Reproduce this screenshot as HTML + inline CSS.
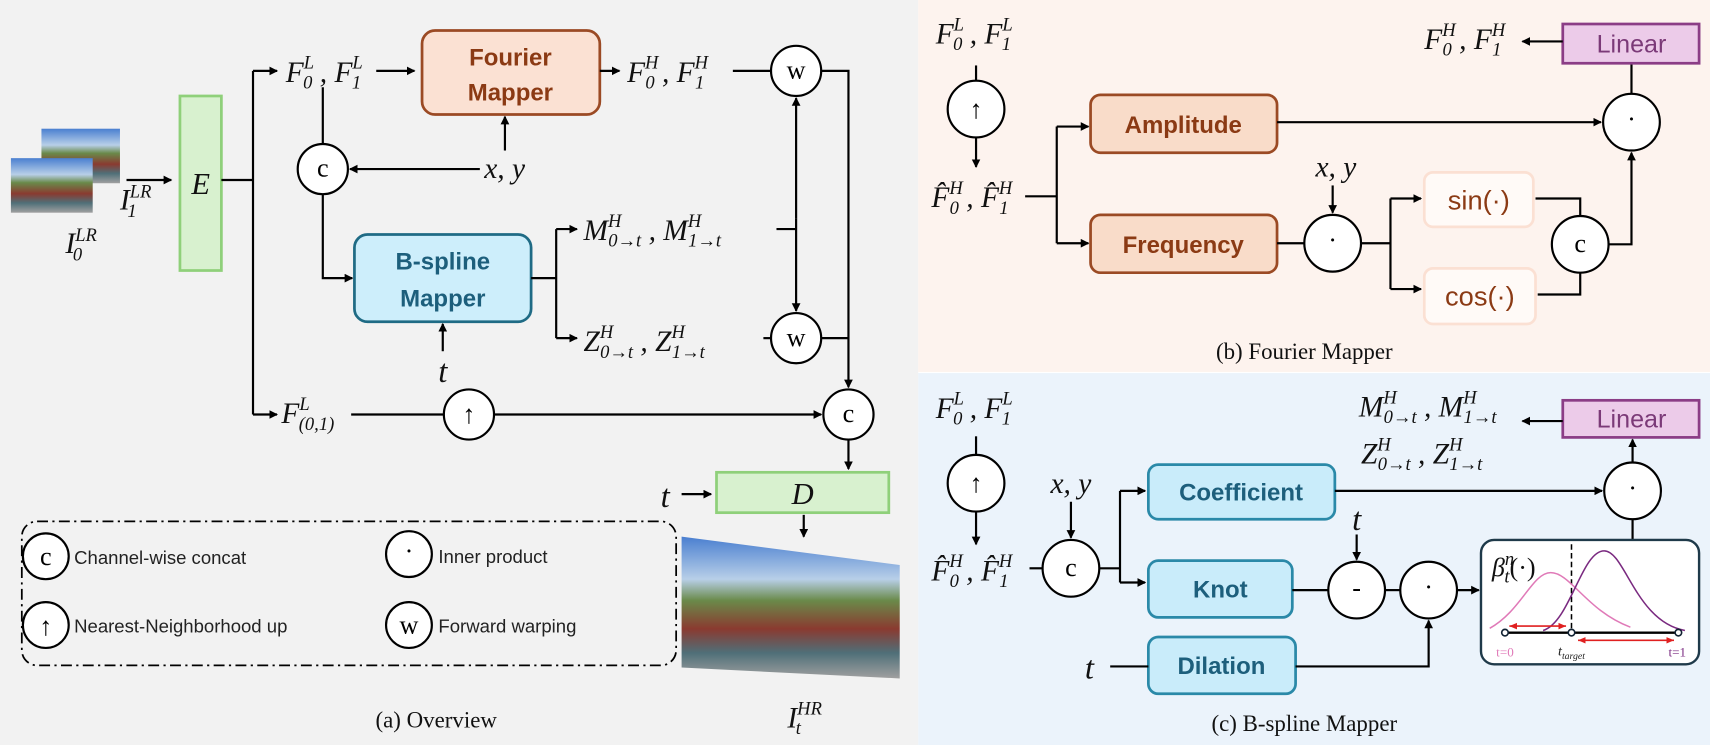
<!DOCTYPE html>
<html><head><meta charset="utf-8"><style>
html,body{margin:0;padding:0;background:#fff}
svg{display:block}
.m{font-family:"Liberation Serif",serif;font-style:italic;font-size:27px;fill:#111}
.s{font-size:17px}
.b{font-family:"Liberation Sans",sans-serif;font-weight:bold;font-size:22px;text-anchor:middle}
.l{font-family:"Liberation Sans",sans-serif;font-size:17px;fill:#222}
.cap{font-family:"Liberation Serif",serif;font-size:21px;fill:#111;text-anchor:middle}
.ln{stroke:#000;stroke-width:2;fill:none}
.ci{stroke:#000;stroke-width:2;fill:#fff}
.ct{font-family:"Liberation Serif",serif;font-size:24px;text-anchor:middle;fill:#000}
</style></head><body>
<svg width="1710" height="745" viewBox="0 0 1568 683" preserveAspectRatio="none" xmlns="http://www.w3.org/2000/svg">
<defs>
<marker id="a" markerWidth="8" markerHeight="8" refX="7" refY="4" orient="auto" markerUnits="userSpaceOnUse"><path d="M0,0 L8,4 L0,8 z" fill="#000"/></marker>
<marker id="r" markerWidth="8" markerHeight="8" refX="7" refY="4" orient="auto-start-reverse" markerUnits="userSpaceOnUse"><path d="M0,1 L7,4 L0,7 z" fill="#e02020"/></marker>
<linearGradient id="ph" x1="0" y1="0" x2="0" y2="1"><stop offset="0" stop-color="#4a7fd0"/><stop offset="0.3" stop-color="#b8cfe8"/><stop offset="0.45" stop-color="#6a8a4a"/><stop offset="0.65" stop-color="#8a3a30"/><stop offset="0.82" stop-color="#4f6f78"/><stop offset="1" stop-color="#a0a0a0"/></linearGradient>
</defs>
<rect x="0" y="0" width="842" height="683" fill="#f2f2f2"/>
<rect x="842" y="0" width="726" height="341" fill="#fdf3ee"/>
<rect x="842" y="342" width="726" height="341" fill="#ebf3fb"/>

<!-- panel a -->
<rect x="38" y="118" width="72" height="50" fill="url(#ph)"/>
<rect x="10" y="145" width="75" height="50" fill="url(#ph)"/>
<text class="m" x="110" y="192">I<tspan class="s" dy="-11">LR</tspan><tspan class="s" dx="-22" dy="18">1</tspan></text>
<text class="m" x="60" y="232">I<tspan class="s" dy="-11">LR</tspan><tspan class="s" dx="-22" dy="18">0</tspan></text>
<line class="ln" x1="116" y1="165" x2="157" y2="165" marker-end="url(#a)"/>
<rect x="165" y="88" width="38" height="160" fill="#d8f1cf" stroke="#8fd07a" stroke-width="2.5"/>
<text class="m" x="184" y="178" text-anchor="middle" style="font-size:28px">E</text>
<path class="ln" d="M203,165 H232 M232,65 V380"/>
<line class="ln" x1="232" y1="65" x2="254" y2="65" marker-end="url(#a)"/>
<line class="ln" x1="232" y1="380" x2="254" y2="380" marker-end="url(#a)"/>
<text class="m" x="262" y="75">F<tspan class="s" dy="-12">L</tspan><tspan class="s" dx="-10" dy="18">0</tspan><tspan dy="-6"> , F</tspan><tspan class="s" dy="-12">L</tspan><tspan class="s" dx="-10" dy="18">1</tspan></text>
<line class="ln" x1="345" y1="65" x2="380" y2="65" marker-end="url(#a)"/>
<rect x="387" y="28" width="163" height="77" rx="12" fill="#fbe1d3" stroke="#9b4a24" stroke-width="2.5"/>
<text class="b" x="468" y="60" fill="#8b3a14">Fourier</text>
<text class="b" x="468" y="92" fill="#8b3a14">Mapper</text>
<line class="ln" x1="550" y1="65" x2="568" y2="65" marker-end="url(#a)"/>
<text class="m" x="575" y="75">F<tspan class="s" dy="-12">H</tspan><tspan class="s" dx="-12" dy="18">0</tspan><tspan dy="-6"> , F</tspan><tspan class="s" dy="-12">H</tspan><tspan class="s" dx="-12" dy="18">1</tspan></text>
<line class="ln" x1="672" y1="65" x2="707" y2="65"/>
<circle class="ci" cx="730" cy="65" r="23"/><text class="ct" x="730" y="72">w</text>
<path class="ln" d="M753,65 H778 V355" marker-end="url(#a)"/>
<line class="ln" x1="296" y1="80" x2="296" y2="132"/>
<circle class="ci" cx="296" cy="155" r="23"/><text class="ct" x="296" y="162">c</text>
<line class="ln" x1="440" y1="155" x2="321" y2="155" marker-end="url(#a)"/>
<text class="m" x="444" y="163">x, y</text>
<line class="ln" x1="463" y1="138" x2="463" y2="107" marker-end="url(#a)"/>
<path class="ln" d="M296,178 V255 H323" marker-end="url(#a)"/>
<rect x="325" y="215" width="162" height="80" rx="12" fill="#cdeefb" stroke="#1f6b85" stroke-width="2.5"/>
<text class="b" x="406" y="247" fill="#1d5f7c">B-spline</text>
<text class="b" x="406" y="281" fill="#1d5f7c">Mapper</text>
<text class="m" x="406" y="350" text-anchor="middle" style="font-size:30px">t</text>
<line class="ln" x1="406" y1="322" x2="406" y2="297" marker-end="url(#a)"/>
<path class="ln" d="M487,255 H510 M510,210 V310"/>
<line class="ln" x1="510" y1="210" x2="529" y2="210" marker-end="url(#a)"/>
<line class="ln" x1="510" y1="310" x2="529" y2="310" marker-end="url(#a)"/>
<text class="m" x="535" y="220">M<tspan class="s" dy="-12">H</tspan><tspan class="s" dx="-12" dy="18">0→t</tspan><tspan dy="-6"> , M</tspan><tspan class="s" dy="-12">H</tspan><tspan class="s" dx="-12" dy="18">1→t</tspan></text>
<text class="m" x="535" y="322">Z<tspan class="s" dy="-12">H</tspan><tspan class="s" dx="-12" dy="18">0→t</tspan><tspan dy="-6"> , Z</tspan><tspan class="s" dy="-12">H</tspan><tspan class="s" dx="-12" dy="18">1→t</tspan></text>
<line class="ln" x1="712" y1="210" x2="730" y2="210"/>
<line class="ln" x1="730" y1="200" x2="730" y2="90" marker-end="url(#a)"/>
<line class="ln" x1="730" y1="200" x2="730" y2="285" marker-end="url(#a)"/>
<line class="ln" x1="700" y1="310" x2="707" y2="310"/>
<circle class="ci" cx="730" cy="310" r="23"/><text class="ct" x="730" y="317">w</text>
<line class="ln" x1="753" y1="310" x2="778" y2="310"/>
<text class="m" x="258" y="388">F<tspan class="s" dy="-12">L</tspan><tspan class="s" dx="-10" dy="18">(0,1)</tspan></text>
<line class="ln" x1="322" y1="380" x2="407" y2="380"/>
<circle class="ci" cx="430" cy="380" r="23"/><text class="ct" x="430" y="388">↑</text>
<line class="ln" x1="453" y1="380" x2="753" y2="380" marker-end="url(#a)"/>
<circle class="ci" cx="778" cy="380" r="23"/><text class="ct" x="778" y="387">c</text>
<line class="ln" x1="778" y1="403" x2="778" y2="430" marker-end="url(#a)"/>
<rect x="657" y="433" width="158" height="37" fill="#d8f1cf" stroke="#8fd07a" stroke-width="2.5"/>
<text class="m" x="736" y="462" text-anchor="middle" style="font-size:28px">D</text>
<text class="m" x="610" y="465" text-anchor="middle" style="font-size:30px">t</text>
<line class="ln" x1="625" y1="453" x2="652" y2="453" marker-end="url(#a)"/>
<line class="ln" x1="737" y1="472" x2="737" y2="492" marker-end="url(#a)"/>
<polygon points="625,492 825,518 825,622 625,612" fill="url(#ph)"/>
<text class="m" x="722" y="667">I<tspan class="s" dy="-12">HR</tspan><tspan class="s" dx="-24" dy="18">t</tspan></text>
<rect x="20" y="478" width="600" height="132" rx="14" fill="none" stroke="#000" stroke-width="1.6" stroke-dasharray="10,4,2,4"/>
<circle class="ci" cx="42" cy="510" r="21"/><text class="ct" x="42" y="518">c</text>
<text class="l" x="68" y="517">Channel-wise concat</text>
<circle class="ci" cx="42" cy="573" r="21"/><text class="ct" x="42" y="582">↑</text>
<text class="l" x="68" y="580">Nearest-Neighborhood up</text>
<circle class="ci" cx="375" cy="508" r="21"/><text class="ct" x="375" y="513">·</text>
<text class="l" x="402" y="516">Inner product</text>
<circle class="ci" cx="375" cy="573" r="21"/><text class="ct" x="375" y="581">w</text>
<text class="l" x="402" y="580">Forward warping</text>
<text class="cap" x="400" y="667">(a) Overview</text>

<!-- panel b -->
<text class="m" x="858" y="40">F<tspan class="s" dy="-12">L</tspan><tspan class="s" dx="-10" dy="18">0</tspan><tspan dy="-6"> , F</tspan><tspan class="s" dy="-12">L</tspan><tspan class="s" dx="-10" dy="18">1</tspan></text>
<line class="ln" x1="895" y1="60" x2="895" y2="74"/>
<circle class="ci" cx="895" cy="100" r="26"/><text class="ct" x="895" y="108">↑</text>
<line class="ln" x1="895" y1="126" x2="895" y2="153" marker-end="url(#a)"/>
<text class="m" x="854" y="190">F̂<tspan class="s" dy="-12">H</tspan><tspan class="s" dx="-12" dy="18">0</tspan><tspan dy="-6"> , F̂</tspan><tspan class="s" dy="-12">H</tspan><tspan class="s" dx="-12" dy="18">1</tspan></text>
<path class="ln" d="M940,180 H969 M969,116 V223"/>
<line class="ln" x1="969" y1="116" x2="998" y2="116" marker-end="url(#a)"/>
<line class="ln" x1="969" y1="223" x2="998" y2="223" marker-end="url(#a)"/>
<rect x="1000" y="87" width="171" height="53" rx="9" fill="#f9dcc9" stroke="#9b4a24" stroke-width="2.5"/>
<text class="b" x="1085" y="122" fill="#8b3a14">Amplitude</text>
<rect x="1000" y="197" width="171" height="53" rx="9" fill="#f9dcc9" stroke="#9b4a24" stroke-width="2.5"/>
<text class="b" x="1085" y="232" fill="#8b3a14">Frequency</text>
<line class="ln" x1="1171" y1="112" x2="1468" y2="112" marker-end="url(#a)"/>
<circle class="ci" cx="1496" cy="112" r="26"/><text class="ct" x="1496" y="117">·</text>
<line class="ln" x1="1496" y1="86" x2="1496" y2="58"/>
<rect x="1433" y="22" width="125" height="36" fill="#eccbe9" stroke="#8b3d86" stroke-width="2.5"/>
<text x="1496" y="48" text-anchor="middle" style="font-family:'Liberation Sans',sans-serif;font-size:23px;fill:#7b3a78">Linear</text>
<line class="ln" x1="1433" y1="38" x2="1396" y2="38" marker-end="url(#a)"/>
<text class="m" x="1306" y="45">F<tspan class="s" dy="-12">H</tspan><tspan class="s" dx="-12" dy="18">0</tspan><tspan dy="-6"> , F</tspan><tspan class="s" dy="-12">H</tspan><tspan class="s" dx="-12" dy="18">1</tspan></text>
<line class="ln" x1="1171" y1="223" x2="1196" y2="223"/>
<circle class="ci" cx="1222" cy="223" r="26"/><text class="ct" x="1222" y="228">·</text>
<text class="m" x="1225" y="162" text-anchor="middle">x, y</text>
<line class="ln" x1="1222" y1="170" x2="1222" y2="195" marker-end="url(#a)"/>
<path class="ln" d="M1248,223 H1275 M1275,182 V265"/>
<line class="ln" x1="1275" y1="182" x2="1303" y2="182" marker-end="url(#a)"/>
<line class="ln" x1="1275" y1="265" x2="1303" y2="265" marker-end="url(#a)"/>
<rect x="1306" y="158" width="100" height="50" rx="8" fill="#fffaf7" stroke="#fbe0d3" stroke-width="2.5"/>
<text x="1356" y="192" text-anchor="middle" style="font-family:'Liberation Sans',sans-serif;font-size:25px;fill:#8b3a14">sin(·)</text>
<rect x="1306" y="246" width="102" height="51" rx="8" fill="#fffaf7" stroke="#fbe0d3" stroke-width="2.5"/>
<text x="1357" y="280" text-anchor="middle" style="font-family:'Liberation Sans',sans-serif;font-size:25px;fill:#8b3a14">cos(·)</text>
<path class="ln" d="M1408,182 H1449 V198 M1410,270 H1449 V250"/>
<circle class="ci" cx="1449" cy="224" r="26"/><text class="ct" x="1449" y="231">c</text>
<path class="ln" d="M1475,224 H1496 V140" marker-end="url(#a)"/>
<text class="cap" x="1196" y="329">(b) Fourier Mapper</text>

<!-- panel c -->
<text class="m" x="858" y="383">F<tspan class="s" dy="-12">L</tspan><tspan class="s" dx="-10" dy="18">0</tspan><tspan dy="-6"> , F</tspan><tspan class="s" dy="-12">L</tspan><tspan class="s" dx="-10" dy="18">1</tspan></text>
<line class="ln" x1="895" y1="400" x2="895" y2="417"/>
<circle class="ci" cx="895" cy="443" r="26"/><text class="ct" x="895" y="451">↑</text>
<line class="ln" x1="895" y1="469" x2="895" y2="499" marker-end="url(#a)"/>
<text class="m" x="854" y="532">F̂<tspan class="s" dy="-12">H</tspan><tspan class="s" dx="-12" dy="18">0</tspan><tspan dy="-6"> , F̂</tspan><tspan class="s" dy="-12">H</tspan><tspan class="s" dx="-12" dy="18">1</tspan></text>
<line class="ln" x1="944" y1="521" x2="956" y2="521"/>
<circle class="ci" cx="982" cy="521" r="26"/><text class="ct" x="982" y="528">c</text>
<text class="m" x="982" y="452" text-anchor="middle">x, y</text>
<line class="ln" x1="982" y1="460" x2="982" y2="493" marker-end="url(#a)"/>
<path class="ln" d="M1008,521 H1027 M1027,450 V534"/>
<line class="ln" x1="1027" y1="450" x2="1050" y2="450" marker-end="url(#a)"/>
<line class="ln" x1="1027" y1="534" x2="1050" y2="534" marker-end="url(#a)"/>
<rect x="1053" y="426" width="171" height="50" rx="9" fill="#c9ecfa" stroke="#2a89a8" stroke-width="2.5"/>
<text class="b" x="1138" y="459" fill="#1d5f7c">Coefficient</text>
<rect x="1053" y="514" width="132" height="52" rx="9" fill="#c9ecfa" stroke="#2a89a8" stroke-width="2.5"/>
<text class="b" x="1119" y="548" fill="#1d5f7c">Knot</text>
<rect x="1053" y="584" width="135" height="52" rx="9" fill="#c9ecfa" stroke="#2a89a8" stroke-width="2.5"/>
<text class="b" x="1120" y="618" fill="#1d5f7c">Dilation</text>
<line class="ln" x1="1224" y1="450" x2="1469" y2="450" marker-end="url(#a)"/>
<circle class="ci" cx="1497" cy="450" r="26"/><text class="ct" x="1497" y="455">·</text>
<line class="ln" x1="1497" y1="424" x2="1497" y2="403" marker-end="url(#a)"/>
<rect x="1433" y="367" width="125" height="34" fill="#eccbe9" stroke="#8b3d86" stroke-width="2.5"/>
<text x="1496" y="392" text-anchor="middle" style="font-family:'Liberation Sans',sans-serif;font-size:23px;fill:#7b3a78">Linear</text>
<line class="ln" x1="1433" y1="386" x2="1396" y2="386" marker-end="url(#a)"/>
<text class="m" x="1246" y="382">M<tspan class="s" dy="-12">H</tspan><tspan class="s" dx="-12" dy="18">0→t</tspan><tspan dy="-6"> , M</tspan><tspan class="s" dy="-12">H</tspan><tspan class="s" dx="-12" dy="18">1→t</tspan></text>
<text class="m" x="1248" y="425">Z<tspan class="s" dy="-12">H</tspan><tspan class="s" dx="-12" dy="18">0→t</tspan><tspan dy="-6"> , Z</tspan><tspan class="s" dy="-12">H</tspan><tspan class="s" dx="-12" dy="18">1→t</tspan></text>
<line class="ln" x1="1185" y1="541" x2="1218" y2="541"/>
<circle class="ci" cx="1244" cy="541" r="26"/><text class="ct" x="1244" y="547">-</text>
<text class="m" x="1244" y="486" text-anchor="middle" style="font-size:30px">t</text>
<line class="ln" x1="1244" y1="490" x2="1244" y2="513" marker-end="url(#a)"/>
<line class="ln" x1="1270" y1="541" x2="1284" y2="541"/>
<circle class="ci" cx="1310" cy="541" r="26"/><text class="ct" x="1310" y="546">·</text>
<line class="ln" x1="1336" y1="541" x2="1356" y2="541" marker-end="url(#a)"/>
<text class="m" x="999" y="622" text-anchor="middle" style="font-size:30px">t</text>
<line class="ln" x1="1018" y1="611" x2="1053" y2="611"/>
<path class="ln" d="M1188,611 H1310 V569" marker-end="url(#a)"/>
<line class="ln" x1="1497" y1="476" x2="1497" y2="495"/>
<rect x="1358" y="495" width="200" height="114" rx="12" fill="#fff" stroke="#1f3a4a" stroke-width="2.2"/>
<text class="m" x="1368" y="528" style="font-size:24px">β<tspan class="s" dy="-10">n</tspan><tspan class="s" dx="-9" dy="16">t</tspan><tspan dy="-6" font-style="normal">(·)</tspan></text>
<line x1="1441" y1="499" x2="1441" y2="580" stroke="#000" stroke-width="1.4" stroke-dasharray="5,3"/>
<path d="M1366,576 C1395,560 1405,525 1422,525 C1440,525 1455,560 1495,575" fill="none" stroke="#e07ab8" stroke-width="1.4"/>
<path d="M1415,578 C1440,570 1450,505 1471,505 C1490,505 1500,570 1545,578" fill="none" stroke="#7a2a80" stroke-width="1.4"/>
<line x1="1380" y1="580" x2="1539" y2="580" stroke="#000" stroke-width="2.2"/>
<circle cx="1380" cy="580" r="3" fill="#fff" stroke="#123" stroke-width="1.5"/>
<circle cx="1441" cy="580" r="3" fill="#fff" stroke="#123" stroke-width="1.5"/>
<circle cx="1539" cy="580" r="3" fill="#fff" stroke="#123" stroke-width="1.5"/>
<line x1="1384" y1="574" x2="1436" y2="574" stroke="#e02020" stroke-width="1.5" marker-start="url(#r)" marker-end="url(#r)"/>
<line x1="1447" y1="587" x2="1535" y2="587" stroke="#e02020" stroke-width="1.5" marker-start="url(#r)" marker-end="url(#r)"/>
<text x="1380" y="602" text-anchor="middle" style="font-family:'Liberation Serif',serif;font-size:12px;fill:#e07ab8">t=0</text>
<text x="1441" y="601" text-anchor="middle" style="font-family:'Liberation Serif',serif;font-style:italic;font-size:13px;fill:#222">t<tspan font-size="9" dy="3">target</tspan></text>
<text x="1538" y="602" text-anchor="middle" style="font-family:'Liberation Serif',serif;font-size:12px;fill:#7a2a80">t=1</text>
<text class="cap" x="1196" y="670">(c) B-spline Mapper</text>
</svg>
</body></html>
